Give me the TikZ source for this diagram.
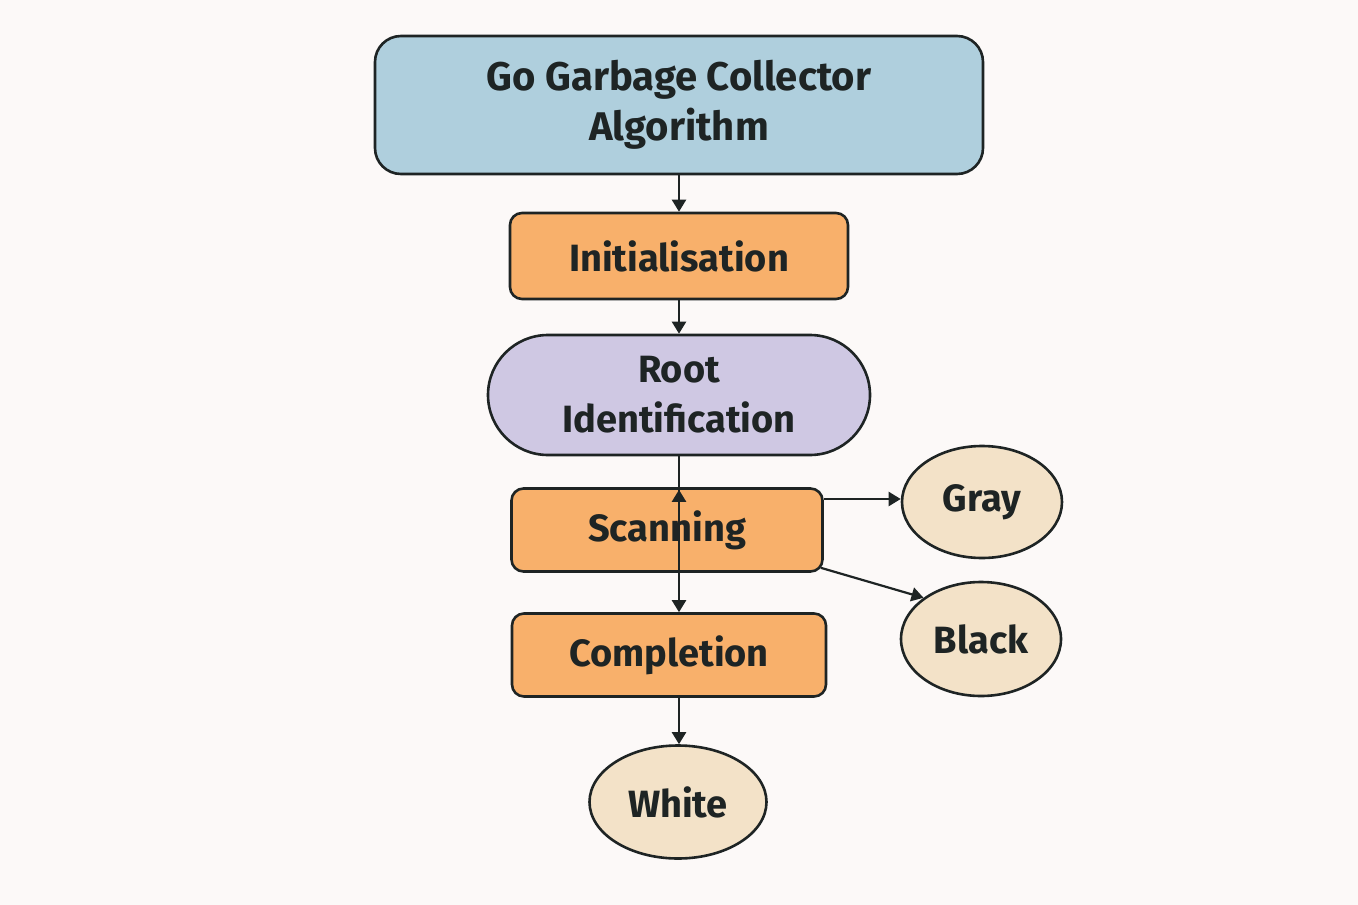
\documentclass[tikz,border=0pt]{standalone}
\usepackage{fontspec}
\setmainfont{Fira Sans}
\usetikzlibrary{shapes.geometric,shapes.misc,arrows.meta}
\definecolor{bg}{HTML}{FCF9F8}
\definecolor{blu}{HTML}{AFCFDD}
\definecolor{org}{HTML}{F8B06B}
\definecolor{lav}{HTML}{CFC8E3}
\definecolor{tan}{HTML}{F3E2C8}
\definecolor{ink}{HTML}{1E2424}
\tikzset{
 x=1pt,y=-1pt,
 base/.style={draw=ink,line width=2.6pt,text=ink,font=\fontsize{38}{42}\selectfont\bfseries,align=center,inner sep=0pt},
 box/.style={base,rectangle,rounded corners=12pt,fill=org},
 ell/.style={base,ellipse,fill=tan},
 arr/.style={draw=ink,line width=2.2pt,-{Triangle[length=12pt,width=14pt]}}
}
\begin{document}
\begin{tikzpicture}
\fill[bg] (0,0) rectangle (1358,905);
\useasboundingbox (0,0) rectangle (1358,905);
\node[base,rectangle,rounded corners=26pt,fill=blu,minimum width=608pt,minimum height=138pt,font=\fontsize{40}{50}\selectfont\bfseries] (t) at (679,105) {Go Garbage Collector\\Algorithm};
\node[box,minimum width=338pt,minimum height=86pt] (i) at (679,256) {Initialisation};
\node[base,rounded rectangle,fill=lav,minimum width=382pt,minimum height=120pt,font=\fontsize{38}{50}\selectfont\bfseries] (r) at (679,395) {Root\\Identification};
\node[box,minimum width=311pt,minimum height=83pt] (s) at (667,530) {Scanning};
\node[box,minimum width=314pt,minimum height=83pt] (c) at (669,655) {Completion};
\node[ell,minimum width=160pt,minimum height=112pt] (g) at (982,502) {Gray};
\node[ell,minimum width=160pt,minimum height=114pt] (b) at (981,639) {Black};
\node[ell,minimum width=177pt,minimum height=113pt] (w) at (678,802) {White};
\draw[arr] (t.south -| 679,0) -- (i.north -| 679,0);
\draw[arr] (i.south -| 679,0) -- (r.north -| 679,0);
\draw[arr] (r.south -| 679,0) -- (s.south -| 679,0) ++(0,-83) coordinate (sn);
\draw[arr] (c.south -| 679,0) -- (w.north -| 679,0);
\draw[arr] (s.south -| 679,0) -- (c.north -| 679,0);
\draw[arr] (s.east |- 0,499) -- (g.west |- 0,499);
\draw[arr] (s.south east) ++(-3,-5) coordinate (se) (se) -- (b.north west);
\end{tikzpicture}
\end{document}
